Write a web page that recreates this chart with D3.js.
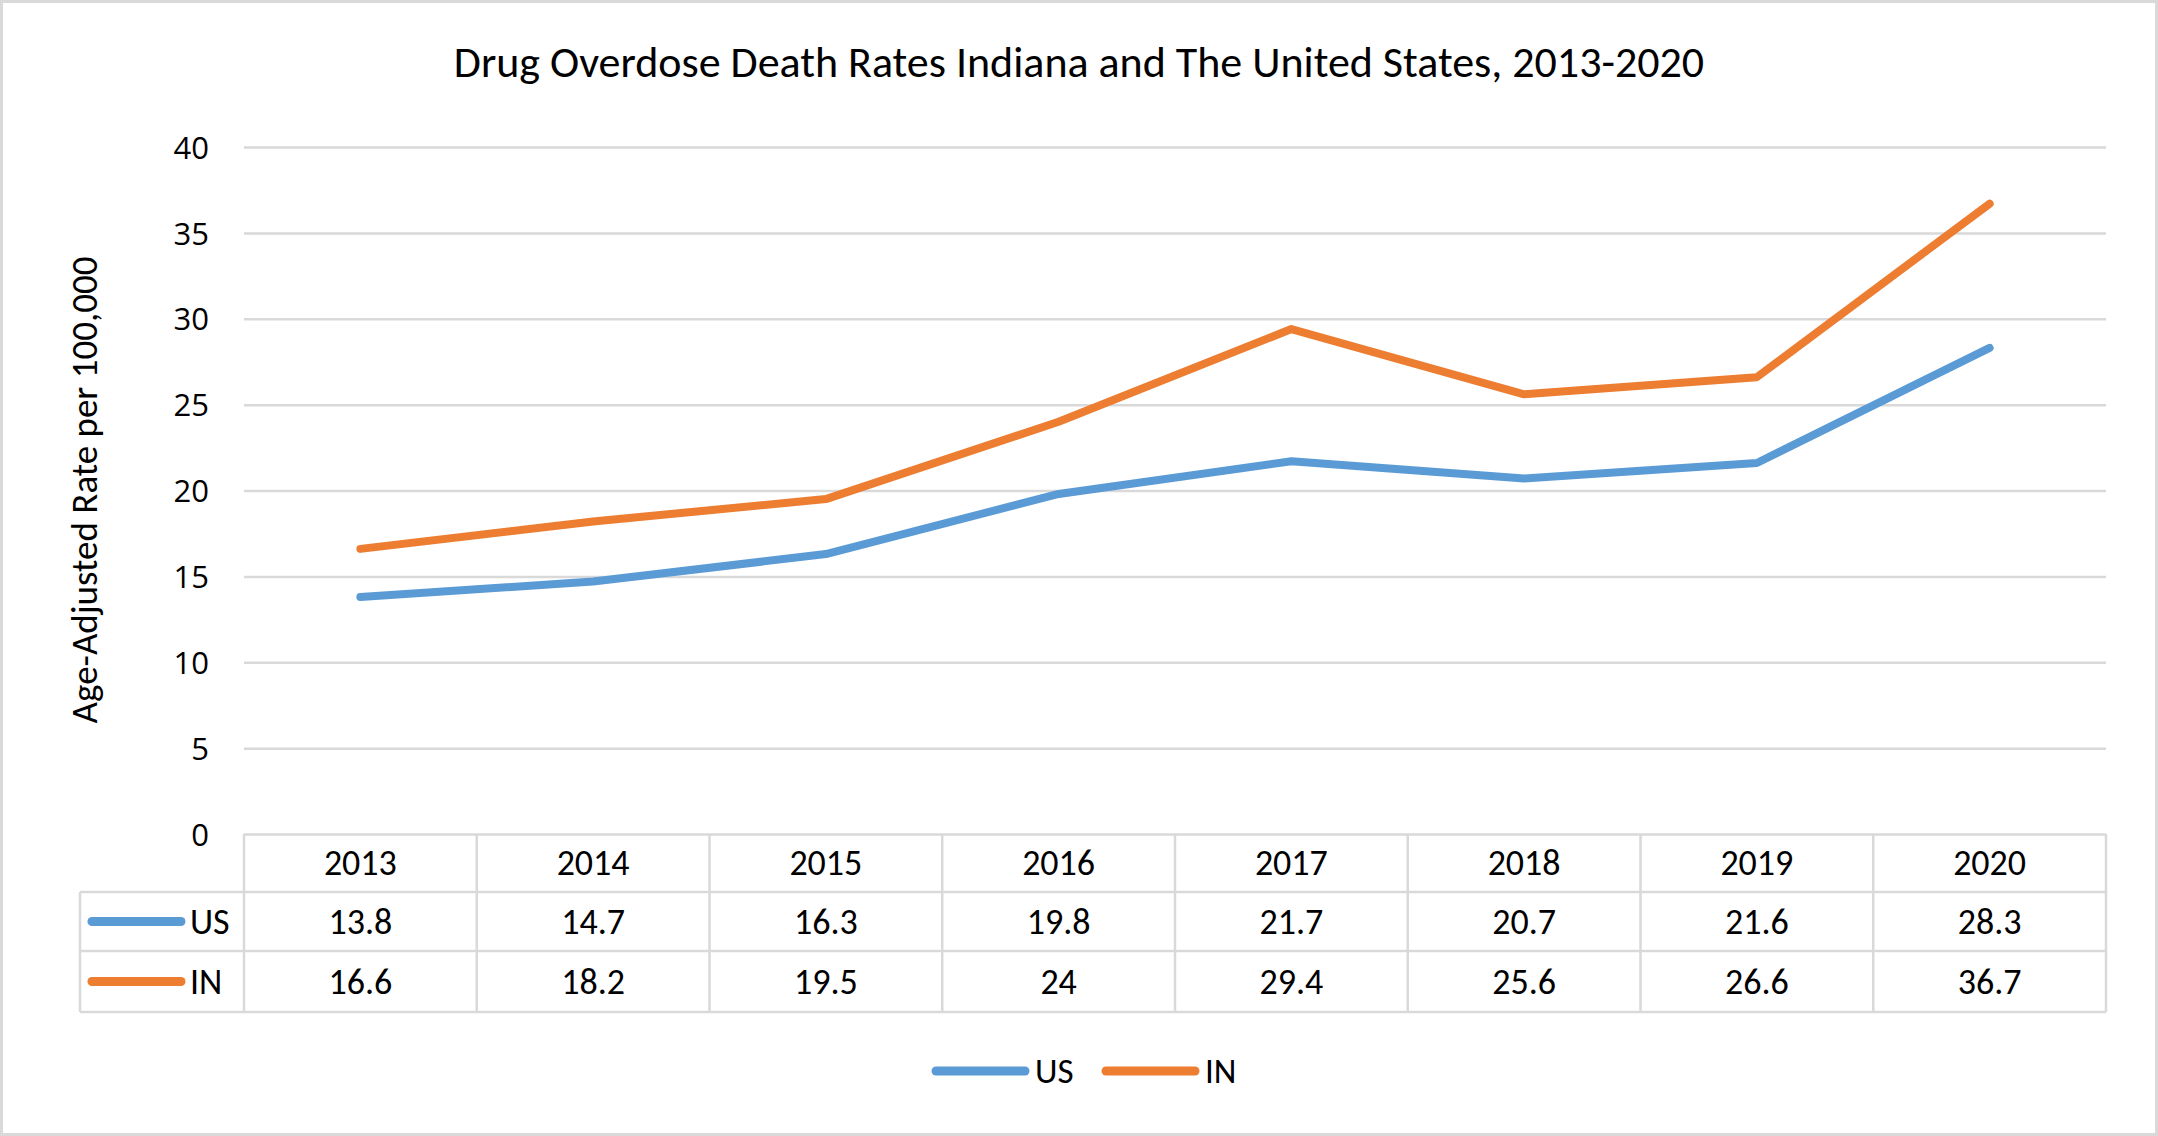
<!DOCTYPE html>
<html>
<head>
<meta charset="utf-8">
<script src="https://cdn.jsdelivr.net/npm/d3@7"></script>
<style>
  html, body { margin: 0; padding: 0; background: #fff; }
  svg { display: block; }
  .calib { font-family: Carlito, Calibri, Lato, "Liberation Sans", sans-serif; fill: #000; }
  .tick text { font-family: "Segoe UI", "Open Sans", "Noto Sans", sans-serif; font-size: 31px; fill: #000; }
  .tick line { stroke: #d9d9d9; stroke-width: 2.5; }
</style>
</head>
<body>
<svg id="chart" width="2158" height="1136"></svg>
<script>
const years = ["2013", "2014", "2015", "2016", "2017", "2018", "2019", "2020"];
const usRates = [13.8, 14.7, 16.3, 19.8, 21.7, 20.7, 21.6, 28.3];
const inRates = [16.6, 18.2, 19.5, 24, 29.4, 25.6, 26.6, 36.7];
const seriesNames = ["US", "IN"];
const seriesColors = ["#5b9bd5", "#ed7d31"];
const yTicks = [0, 5, 10, 15, 20, 25, 30, 35, 40];

const series = [
  { name: seriesNames[0], color: seriesColors[0], values: usRates },
  { name: seriesNames[1], color: seriesColors[1], values: inRates }
];

const W = 2158, H = 1136;
const plotLeft = 244, plotRight = 2106, plotTop = 147, plotBottom = 834;
const rowH = [58, 59, 61];
const legendLeft = 80;
const grid = "#d9d9d9";

const svg = d3.select("#chart");

// outer frame
svg.append("rect")
  .attr("x", 1.5).attr("y", 1.5)
  .attr("width", W - 3).attr("height", H - 3)
  .attr("fill", "#fff")
  .attr("stroke", grid)
  .attr("stroke-width", 3);

const x = d3.scaleBand().domain(years).range([plotLeft, plotRight]).padding(0);
const y = d3.scaleLinear().domain([0, 40]).range([plotBottom, plotTop]);
const cx = d => x(d) + x.bandwidth() / 2;

// title
svg.append("text")
  .attr("class", "calib")
  .attr("x", 1079).attr("y", 77)
  .attr("text-anchor", "middle")
  .style("font-size", "44px")
  .text("Drug Overdose Death Rates Indiana and The United States, 2013-2020");

// y axis + gridlines
const yAxis = svg.append("g")
  .attr("transform", `translate(${plotLeft},0)`)
  .call(d3.axisLeft(y).tickValues(yTicks).tickSize(-(plotRight - plotLeft)).tickPadding(35));
yAxis.select(".domain").remove();
yAxis.selectAll(".tick text").attr("dy", "0.36em");

svg.append("text")
  .attr("class", "calib")
  .attr("transform", "translate(97,490) rotate(-90)")
  .attr("text-anchor", "middle")
  .style("font-size", "37px")
  .text("Age-Adjusted Rate per 100,000");

// data table
const rowTop = [plotBottom, plotBottom + rowH[0], plotBottom + rowH[0] + rowH[1]];
const tableBottom = rowTop[2] + rowH[2];
const table = svg.append("g").attr("stroke", grid).attr("stroke-width", 2.5);

years.concat(["end"]).forEach((yr, i) => {
  const xx = i < years.length ? x(yr) : plotRight;
  table.append("line")
    .attr("x1", xx).attr("x2", xx)
    .attr("y1", plotBottom).attr("y2", tableBottom);
});
table.append("line")
  .attr("x1", legendLeft).attr("x2", legendLeft)
  .attr("y1", rowTop[1]).attr("y2", tableBottom);
[rowTop[1], rowTop[2], tableBottom].forEach(yy => {
  table.append("line")
    .attr("x1", legendLeft).attr("x2", plotRight)
    .attr("y1", yy).attr("y2", yy);
});

svg.append("g").selectAll("text")
  .data(years)
  .join("text")
  .attr("class", "calib")
  .attr("x", d => cx(d))
  .attr("y", rowTop[0] + rowH[0] / 2 + 12)
  .attr("text-anchor", "middle")
  .style("font-size", "36px")
  .text(d => d);

series.forEach((s, si) => {
  const mid = rowTop[si + 1] + rowH[si + 1] / 2;
  svg.append("line")
    .attr("x1", 92).attr("x2", 181)
    .attr("y1", mid).attr("y2", mid)
    .attr("stroke", s.color)
    .attr("stroke-width", 9)
    .attr("stroke-linecap", "round");
  svg.append("text")
    .attr("class", "calib")
    .attr("x", 190).attr("y", mid + 12)
    .style("font-size", "36px")
    .text(s.name);
  svg.append("g").selectAll("text")
    .data(s.values)
    .join("text")
    .attr("class", "calib")
    .attr("x", (d, i) => cx(years[i]))
    .attr("y", mid + 12)
    .attr("text-anchor", "middle")
    .style("font-size", "36px")
    .text(d => d);
});

// lines
const line = d3.line()
  .x((d, i) => cx(years[i]))
  .y(d => y(d));

series.forEach(s => {
  svg.append("path")
    .datum(s.values)
    .attr("fill", "none")
    .attr("stroke", s.color)
    .attr("stroke-width", 8)
    .attr("stroke-linecap", "round")
    .attr("stroke-linejoin", "round")
    .attr("d", line);
});

// bottom legend
const legendX = [936, 1106];
series.forEach((s, i) => {
  svg.append("line")
    .attr("x1", legendX[i]).attr("x2", legendX[i] + 89)
    .attr("y1", 1071).attr("y2", 1071)
    .attr("stroke", s.color)
    .attr("stroke-width", 9)
    .attr("stroke-linecap", "round");
  svg.append("text")
    .attr("class", "calib")
    .attr("x", legendX[i] + 99).attr("y", 1083)
    .style("font-size", "35px")
    .text(s.name);
});
</script>
</body>
</html>
